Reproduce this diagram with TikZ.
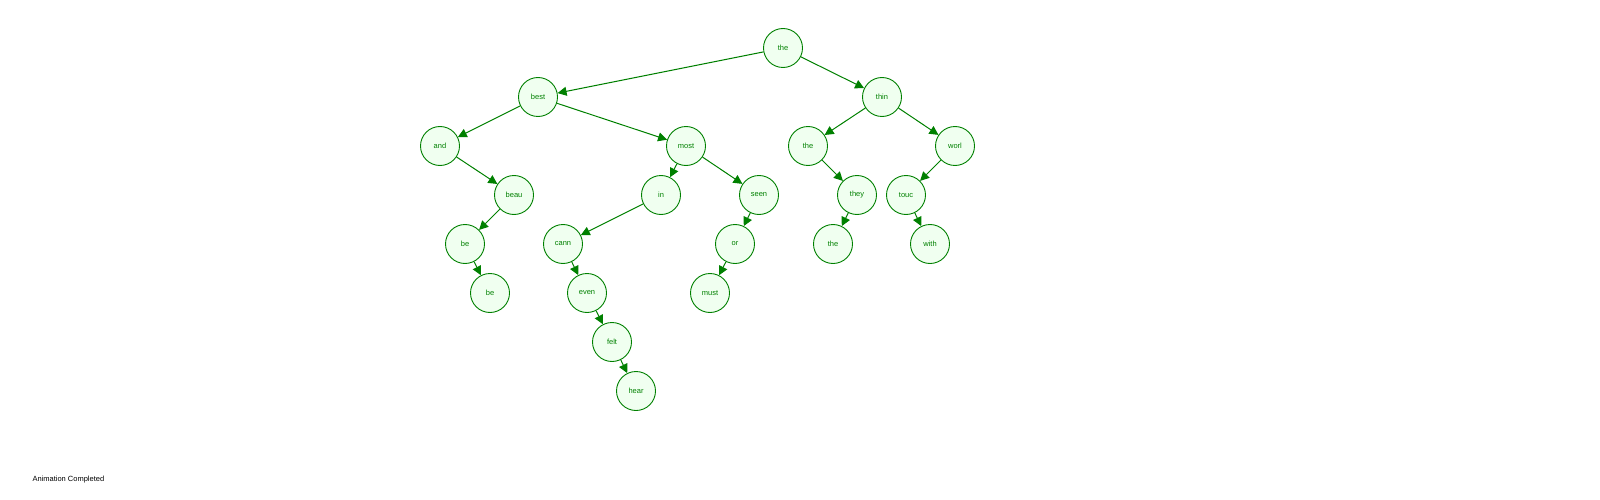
\documentclass[tikz,border=0pt]{standalone}
\usepackage{fontspec}
\setmainfont{Liberation Sans}
\usetikzlibrary{arrows.meta}
\definecolor{gr}{HTML}{008000}
\definecolor{lg}{HTML}{F0FFF0}
\tikzset{nd/.style={circle,draw=gr,fill=lg,text=gr,minimum size=39pt,inner sep=0pt,font=\fontsize{7.5}{9}\selectfont,line width=0.9pt},
ed/.style={draw=gr,line width=1pt,-{Triangle[length=9pt,width=9pt]}}}
\begin{document}
\begin{tikzpicture}[x=1pt,y=-1pt]
\useasboundingbox (0,0) rectangle (1600,500);
\node[nd] (a) at (783,48) {the};
\node[nd] (b) at (538,97) {best};
\node[nd] (c) at (882,97) {thin};
\node[nd] (d) at (440,146) {and};
\node[nd] (e) at (686,146) {most};
\node[nd] (f) at (808,146) {the};
\node[nd] (g) at (955,146) {worl};
\node[nd] (h) at (514,195) {beau};
\node[nd] (i) at (661,195) {in};
\node[nd] (j) at (759,195) {seen};
\node[nd] (k) at (857,195) {they};
\node[nd] (l) at (906,195) {touc};
\node[nd] (m) at (465,244) {be};
\node[nd] (n) at (563,244) {cann};
\node[nd] (o) at (735,244) {or};
\node[nd] (p) at (833,244) {the};
\node[nd] (q) at (930,244) {with};
\node[nd] (r) at (490,293) {be};
\node[nd] (s) at (587,293) {even};
\node[nd] (t) at (710,293) {must};
\node[nd] (u) at (612,342) {felt};
\node[nd] (v) at (636,391) {hear};
\foreach \x/\y in {a/b,a/c,b/d,b/e,c/f,c/g,d/h,e/i,e/j,f/k,g/l,h/m,i/n,j/o,k/p,l/q,m/r,n/s,o/t,s/u,u/v}
  \draw[ed] (\x) -- (\y);
\node[anchor=west,font=\fontsize{7.5}{9}\selectfont] (lab) at (29,480) {Animation Completed};
\end{tikzpicture}
\end{document}
